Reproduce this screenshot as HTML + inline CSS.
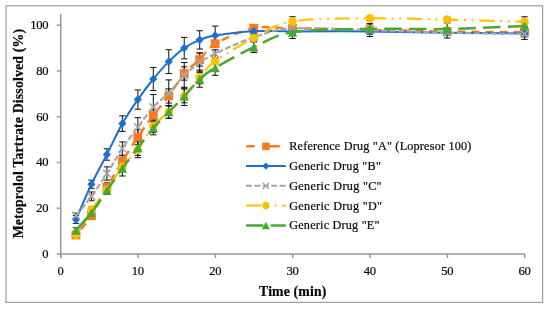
<!DOCTYPE html>
<html><head><meta charset="utf-8"><title>Dissolution profiles</title>
<style>
html,body{margin:0;padding:0;background:#fff;}
svg{display:block;}
text{font-family:"Liberation Serif",serif;fill:#0a0a0a;stroke:#0a0a0a;stroke-width:0.22px;}
.tk{font-size:12.6px;letter-spacing:-0.3px;}
.lg{font-size:12.2px;}
.ti{font-size:13.8px;font-weight:bold;}
</style></head><body>
<svg width="550" height="310" viewBox="0 0 550 310">
<rect x="0" y="0" width="550" height="310" fill="#fff"/>
<rect x="6" y="5.8" width="536.6" height="296.6" fill="#fff" stroke="#a0a0a0" stroke-width="1.25"/>
<path d="M60.75 14 V258.00" stroke="#989898" stroke-width="1.5" fill="none"/>
<path d="M56.75 254.00 H525.10" stroke="#989898" stroke-width="1.5" fill="none"/>
<path d="M56.75 208.24 H60.75" stroke="#989898" stroke-width="1.5" fill="none"/>
<path d="M56.75 162.48 H60.75" stroke="#989898" stroke-width="1.5" fill="none"/>
<path d="M56.75 116.72 H60.75" stroke="#989898" stroke-width="1.5" fill="none"/>
<path d="M56.75 70.96 H60.75" stroke="#989898" stroke-width="1.5" fill="none"/>
<path d="M56.75 25.20 H60.75" stroke="#989898" stroke-width="1.5" fill="none"/>
<path d="M60.75 254.00 V258.00" stroke="#989898" stroke-width="1.5" fill="none"/>
<path d="M138.08 254.00 V258.00" stroke="#989898" stroke-width="1.5" fill="none"/>
<path d="M215.42 254.00 V258.00" stroke="#989898" stroke-width="1.5" fill="none"/>
<path d="M292.75 254.00 V258.00" stroke="#989898" stroke-width="1.5" fill="none"/>
<path d="M370.08 254.00 V258.00" stroke="#989898" stroke-width="1.5" fill="none"/>
<path d="M447.42 254.00 V258.00" stroke="#989898" stroke-width="1.5" fill="none"/>
<path d="M524.75 254.00 V258.00" stroke="#989898" stroke-width="1.5" fill="none"/>
<text class="tk" x="48.2" y="257.80" text-anchor="end">0</text>
<text class="tk" x="48.2" y="212.04" text-anchor="end">20</text>
<text class="tk" x="48.2" y="166.28" text-anchor="end">40</text>
<text class="tk" x="48.2" y="120.52" text-anchor="end">60</text>
<text class="tk" x="48.2" y="74.76" text-anchor="end">80</text>
<text class="tk" x="48.2" y="29.00" text-anchor="end">100</text>
<text class="tk" x="60.50" y="275" text-anchor="middle">0</text>
<text class="tk" x="137.83" y="275" text-anchor="middle">10</text>
<text class="tk" x="215.17" y="275" text-anchor="middle">20</text>
<text class="tk" x="292.50" y="275" text-anchor="middle">30</text>
<text class="tk" x="369.83" y="275" text-anchor="middle">40</text>
<text class="tk" x="447.17" y="275" text-anchor="middle">50</text>
<text class="tk" x="524.50" y="275" text-anchor="middle">60</text>
<text class="ti" x="292.7" y="295.8" text-anchor="middle" textLength="67.3" lengthAdjust="spacing">Time (min)</text>
<text class="ti" transform="translate(22.7 133.6) rotate(-90)" text-anchor="middle" textLength="209.5" lengthAdjust="spacing">Metoprolol Tartrate Dissolved (%)</text>
<path d="M75.97 232.75 V237.33 M72.77 232.75 H79.17 M72.77 237.33 H79.17 M91.43 212.39 V219.25 M88.23 212.39 H94.63 M88.23 219.25 H94.63 M106.90 182.87 V192.02 M103.70 182.87 H110.10 M103.70 192.02 H110.10 M122.37 155.64 V167.08 M119.17 155.64 H125.57 M119.17 167.08 H125.57 M137.83 129.56 V144.66 M134.63 129.56 H141.03 M134.63 144.66 H141.03 M153.30 109.66 V121.10 M150.10 109.66 H156.50 M150.10 121.10 H156.50 M168.77 88.84 V103.02 M165.57 88.84 H171.97 M165.57 103.02 H171.97 M184.23 66.87 V80.14 M181.03 66.87 H187.43 M181.03 80.14 H187.43 M199.70 52.91 V66.18 M196.50 52.91 H202.90 M196.50 66.18 H202.90 M215.17 40.33 V47.19 M211.97 40.33 H218.37 M211.97 47.19 H218.37 M253.83 24.54 V31.86 M250.63 24.54 H257.03 M250.63 31.86 H257.03 M292.50 25.00 V31.86 M289.30 25.00 H295.70 M289.30 31.86 H295.70 M369.83 26.83 V32.78 M366.63 26.83 H373.03 M366.63 32.78 H373.03 M447.17 28.55 V34.50 M443.97 28.55 H450.37 M443.97 34.50 H450.37 M524.50 28.66 V35.52 M521.30 28.66 H527.70 M521.30 35.52 H527.70" stroke="#111" stroke-width="1" fill="none"/>
<path d="M75.97 215.59 V223.37 M72.77 215.59 H79.17 M72.77 223.37 H79.17 M91.43 180.13 V188.36 M88.23 180.13 H94.63 M88.23 188.36 H94.63 M106.90 148.78 V160.22 M103.70 148.78 H110.10 M103.70 160.22 H110.10 M122.37 115.83 V131.39 M119.17 115.83 H125.57 M119.17 131.39 H125.57 M137.83 89.98 V109.20 M134.63 89.98 H141.03 M134.63 109.20 H141.03 M153.30 67.56 V90.44 M150.10 67.56 H156.50 M150.10 90.44 H156.50 M168.77 49.71 V73.51 M165.57 49.71 H171.97 M165.57 73.51 H171.97 M184.23 37.36 V58.86 M181.03 37.36 H187.43 M181.03 58.86 H187.43 M199.70 30.72 V49.02 M196.50 30.72 H202.90 M196.50 49.02 H202.90 M215.17 26.14 V44.91 M211.97 26.14 H218.37 M211.97 44.91 H218.37 M253.83 28.89 V33.47 M250.63 28.89 H257.03 M250.63 33.47 H257.03 M292.50 29.12 V33.69 M289.30 29.12 H295.70 M289.30 33.69 H295.70 M369.83 29.12 V33.69 M366.63 29.12 H373.03 M366.63 33.69 H373.03 M447.17 30.49 V35.07 M443.97 30.49 H450.37 M443.97 35.07 H450.37 M524.50 30.03 V36.90 M521.30 30.03 H527.70 M521.30 36.90 H527.70" stroke="#111" stroke-width="1" fill="none"/>
<path d="M75.97 213.07 V218.11 M72.77 213.07 H79.17 M72.77 218.11 H79.17 M91.43 192.02 V200.72 M88.23 192.02 H94.63 M88.23 200.72 H94.63 M106.90 166.86 V180.13 M103.70 166.86 H110.10 M103.70 180.13 H110.10 M122.37 141.92 V155.19 M119.17 141.92 H125.57 M119.17 155.19 H125.57 M137.83 117.66 V136.43 M134.63 117.66 H141.03 M134.63 136.43 H141.03 M153.30 94.56 V119.72 M150.10 94.56 H156.50 M150.10 119.72 H156.50 M168.77 79.91 V106.00 M165.57 79.91 H171.97 M165.57 106.00 H171.97 M184.23 62.52 V88.15 M181.03 62.52 H187.43 M181.03 88.15 H187.43 M199.70 52.91 V72.59 M196.50 52.91 H202.90 M196.50 72.59 H202.90 M215.17 49.71 V57.49 M211.97 49.71 H218.37 M211.97 57.49 H218.37 M253.83 33.92 V40.79 M250.63 33.92 H257.03 M250.63 40.79 H257.03 M292.50 25.00 V31.86 M289.30 25.00 H295.70 M289.30 31.86 H295.70 M369.83 23.97 V36.55 M366.63 23.97 H373.03 M366.63 36.55 H373.03 M447.17 27.52 V38.04 M443.97 27.52 H450.37 M443.97 38.04 H450.37 M524.50 28.43 V39.41 M521.30 28.43 H527.70 M521.30 39.41 H527.70" stroke="#111" stroke-width="1" fill="none"/>
<path d="M75.97 232.29 V236.87 M72.77 232.29 H79.17 M72.77 236.87 H79.17 M91.43 206.90 V212.39 M88.23 206.90 H94.63 M88.23 212.39 H94.63 M106.90 186.30 V193.17 M103.70 186.30 H110.10 M103.70 193.17 H110.10 M122.37 162.28 V171.43 M119.17 162.28 H125.57 M119.17 171.43 H125.57 M137.83 141.69 V157.70 M134.63 141.69 H141.03 M134.63 157.70 H141.03 M153.30 119.49 V132.31 M150.10 119.49 H156.50 M150.10 132.31 H156.50 M168.77 105.54 V118.35 M165.57 105.54 H171.97 M165.57 118.35 H171.97 M184.23 89.06 V102.79 M181.03 89.06 H187.43 M181.03 102.79 H187.43 M199.70 70.07 V83.80 M196.50 70.07 H202.90 M196.50 83.80 H202.90 M215.17 58.86 V63.44 M211.97 58.86 H218.37 M211.97 63.44 H218.37 M253.83 34.61 V41.47 M250.63 34.61 H257.03 M250.63 41.47 H257.03 M292.50 16.76 V25.92 M289.30 16.76 H295.70 M289.30 25.92 H295.70 M369.83 16.08 V20.65 M366.63 16.08 H373.03 M366.63 20.65 H373.03 M447.17 17.34 V21.91 M443.97 17.34 H450.37 M443.97 21.91 H450.37 M524.50 16.76 V26.83 M521.30 16.76 H527.70 M521.30 26.83 H527.70" stroke="#111" stroke-width="1" fill="none"/>
<path d="M75.97 227.72 V233.21 M72.77 227.72 H79.17 M72.77 233.21 H79.17 M91.43 210.10 V215.59 M88.23 210.10 H94.63 M88.23 215.59 H94.63 M106.90 186.30 V194.54 M103.70 186.30 H110.10 M103.70 194.54 H110.10 M122.37 160.91 V176.01 M119.17 160.91 H125.57 M119.17 176.01 H125.57 M137.83 140.32 V155.42 M134.63 140.32 H141.03 M134.63 155.42 H141.03 M153.30 121.10 V134.82 M150.10 121.10 H156.50 M150.10 134.82 H156.50 M168.77 105.54 V118.35 M165.57 105.54 H171.97 M165.57 118.35 H171.97 M184.23 87.23 V105.54 M181.03 87.23 H187.43 M181.03 105.54 H187.43 M199.70 71.22 V87.23 M196.50 71.22 H202.90 M196.50 87.23 H202.90 M215.17 60.24 V75.34 M211.97 60.24 H218.37 M211.97 75.34 H218.37 M253.83 41.93 V52.46 M250.63 41.93 H257.03 M250.63 52.46 H257.03 M292.50 26.14 V38.50 M289.30 26.14 H295.70 M289.30 38.50 H295.70 M369.83 23.63 V34.15 M366.63 23.63 H373.03 M366.63 34.15 H373.03 M447.17 23.06 V34.95 M443.97 23.06 H450.37 M443.97 34.95 H450.37 M524.50 24.77 V27.06 M521.30 24.77 H527.70 M521.30 27.06 H527.70" stroke="#111" stroke-width="1" fill="none"/>
<path d="M75.97 235.04 C78.54 231.84 86.28 223.75 91.43 215.82 C96.59 207.89 101.74 196.52 106.90 187.45 C112.06 178.37 117.21 169.75 122.37 161.36 C127.52 152.98 132.68 144.78 137.83 137.11 C142.99 129.45 148.14 122.24 153.30 115.38 C158.46 108.51 163.61 102.91 168.77 95.93 C173.92 88.95 179.08 79.57 184.23 73.51 C189.39 67.44 194.54 64.51 199.70 59.55 C204.86 54.59 206.14 48.99 215.17 43.76 C224.19 38.54 240.94 30.76 253.83 28.20 C266.72 25.65 273.17 28.17 292.50 28.43 C311.83 28.70 344.06 29.29 369.83 29.80 C395.61 30.32 421.39 31.14 447.17 31.52 C472.94 31.90 511.61 32.00 524.50 32.09" fill="none" stroke="#F97A1F" stroke-width="2.40" stroke-dasharray="8 6" stroke-dashoffset="6.5"/>
<rect x="71.57" y="230.64" width="8.80" height="8.80" fill="#F97A1F"/>
<rect x="87.03" y="211.42" width="8.80" height="8.80" fill="#F97A1F"/>
<rect x="102.50" y="183.05" width="8.80" height="8.80" fill="#F97A1F"/>
<rect x="117.97" y="156.96" width="8.80" height="8.80" fill="#F97A1F"/>
<rect x="133.43" y="132.71" width="8.80" height="8.80" fill="#F97A1F"/>
<rect x="148.90" y="110.98" width="8.80" height="8.80" fill="#F97A1F"/>
<rect x="164.37" y="91.53" width="8.80" height="8.80" fill="#F97A1F"/>
<rect x="179.83" y="69.11" width="8.80" height="8.80" fill="#F97A1F"/>
<rect x="195.30" y="55.15" width="8.80" height="8.80" fill="#F97A1F"/>
<rect x="210.77" y="39.36" width="8.80" height="8.80" fill="#F97A1F"/>
<rect x="249.43" y="23.80" width="8.80" height="8.80" fill="#F97A1F"/>
<rect x="288.10" y="24.03" width="8.80" height="8.80" fill="#F97A1F"/>
<rect x="365.43" y="25.40" width="8.80" height="8.80" fill="#F97A1F"/>
<rect x="442.77" y="27.12" width="8.80" height="8.80" fill="#F97A1F"/>
<rect x="520.10" y="27.69" width="8.80" height="8.80" fill="#F97A1F"/>
<path d="M75.97 219.48 C78.54 213.61 86.28 195.07 91.43 184.24 C96.59 173.41 101.74 164.61 106.90 154.50 C112.06 144.40 117.21 132.76 122.37 123.61 C127.52 114.46 132.68 107.02 137.83 99.59 C142.99 92.15 148.14 85.33 153.30 79.00 C158.46 72.67 163.61 66.76 168.77 61.61 C173.92 56.46 179.08 51.73 184.23 48.11 C189.39 44.49 194.54 41.97 199.70 39.87 C204.86 37.77 206.14 36.97 215.17 35.52 C224.19 34.08 240.94 31.86 253.83 31.18 C266.72 30.49 273.17 31.37 292.50 31.41 C311.83 31.44 344.06 31.18 369.83 31.41 C395.61 31.64 421.39 32.44 447.17 32.78 C472.94 33.12 511.61 33.35 524.50 33.47" fill="none" stroke="#1C6ED2" stroke-width="2.00"/>
<path d="M75.97 215.18 L80.07 219.48 L75.97 223.78 L71.87 219.48Z" fill="#1C6ED2"/>
<path d="M91.43 179.94 L95.53 184.24 L91.43 188.54 L87.33 184.24Z" fill="#1C6ED2"/>
<path d="M106.90 150.20 L111.00 154.50 L106.90 158.80 L102.80 154.50Z" fill="#1C6ED2"/>
<path d="M122.37 119.31 L126.47 123.61 L122.37 127.91 L118.27 123.61Z" fill="#1C6ED2"/>
<path d="M137.83 95.29 L141.93 99.59 L137.83 103.89 L133.73 99.59Z" fill="#1C6ED2"/>
<path d="M153.30 74.70 L157.40 79.00 L153.30 83.30 L149.20 79.00Z" fill="#1C6ED2"/>
<path d="M168.77 57.31 L172.87 61.61 L168.77 65.91 L164.67 61.61Z" fill="#1C6ED2"/>
<path d="M184.23 43.81 L188.33 48.11 L184.23 52.41 L180.13 48.11Z" fill="#1C6ED2"/>
<path d="M199.70 35.57 L203.80 39.87 L199.70 44.17 L195.60 39.87Z" fill="#1C6ED2"/>
<path d="M215.17 31.22 L219.27 35.52 L215.17 39.82 L211.07 35.52Z" fill="#1C6ED2"/>
<path d="M253.83 26.88 L257.93 31.18 L253.83 35.48 L249.73 31.18Z" fill="#1C6ED2"/>
<path d="M292.50 27.11 L296.60 31.41 L292.50 35.71 L288.40 31.41Z" fill="#1C6ED2"/>
<path d="M369.83 27.11 L373.93 31.41 L369.83 35.71 L365.73 31.41Z" fill="#1C6ED2"/>
<path d="M447.17 28.48 L451.27 32.78 L447.17 37.08 L443.07 32.78Z" fill="#1C6ED2"/>
<path d="M524.50 29.17 L528.60 33.47 L524.50 37.77 L520.40 33.47Z" fill="#1C6ED2"/>
<path d="M75.97 215.59 C78.54 212.39 86.28 203.39 91.43 196.37 C96.59 189.35 101.74 181.46 106.90 173.49 C112.06 165.52 117.21 156.29 122.37 148.55 C127.52 140.81 132.68 133.95 137.83 127.04 C142.99 120.14 148.14 112.82 153.30 107.14 C158.46 101.46 163.61 98.25 168.77 92.95 C173.92 87.65 179.08 80.37 184.23 75.34 C189.39 70.30 194.54 66.37 199.70 62.75 C204.86 59.13 206.14 57.83 215.17 53.60 C224.19 49.37 240.94 41.55 253.83 37.36 C266.72 33.16 273.17 29.61 292.50 28.43 C311.83 27.25 344.06 29.54 369.83 30.26 C395.61 30.99 421.39 32.17 447.17 32.78 C472.94 33.39 511.61 33.73 524.50 33.92" fill="none" stroke="#A5A5A5" stroke-width="2.10" stroke-dasharray="6 2.4"/>
<path d="M72.27 211.89 L79.67 219.29 M72.27 219.29 L79.67 211.89" stroke="#A5A5A5" stroke-width="1.60" fill="none"/>
<path d="M87.73 192.67 L95.13 200.07 M87.73 200.07 L95.13 192.67" stroke="#A5A5A5" stroke-width="1.60" fill="none"/>
<path d="M103.20 169.79 L110.60 177.19 M103.20 177.19 L110.60 169.79" stroke="#A5A5A5" stroke-width="1.60" fill="none"/>
<path d="M118.67 144.85 L126.07 152.25 M118.67 152.25 L126.07 144.85" stroke="#A5A5A5" stroke-width="1.60" fill="none"/>
<path d="M134.13 123.34 L141.53 130.74 M134.13 130.74 L141.53 123.34" stroke="#A5A5A5" stroke-width="1.60" fill="none"/>
<path d="M149.60 103.44 L157.00 110.84 M149.60 110.84 L157.00 103.44" stroke="#A5A5A5" stroke-width="1.60" fill="none"/>
<path d="M165.07 89.25 L172.47 96.65 M165.07 96.65 L172.47 89.25" stroke="#A5A5A5" stroke-width="1.60" fill="none"/>
<path d="M180.53 71.64 L187.93 79.04 M180.53 79.04 L187.93 71.64" stroke="#A5A5A5" stroke-width="1.60" fill="none"/>
<path d="M196.00 59.05 L203.40 66.45 M196.00 66.45 L203.40 59.05" stroke="#A5A5A5" stroke-width="1.60" fill="none"/>
<path d="M211.47 49.90 L218.87 57.30 M211.47 57.30 L218.87 49.90" stroke="#A5A5A5" stroke-width="1.60" fill="none"/>
<path d="M250.13 33.66 L257.53 41.06 M250.13 41.06 L257.53 33.66" stroke="#A5A5A5" stroke-width="1.60" fill="none"/>
<path d="M288.80 24.73 L296.20 32.13 M288.80 32.13 L296.20 24.73" stroke="#A5A5A5" stroke-width="1.60" fill="none"/>
<path d="M366.13 26.56 L373.53 33.96 M366.13 33.96 L373.53 26.56" stroke="#A5A5A5" stroke-width="1.60" fill="none"/>
<path d="M443.47 29.08 L450.87 36.48 M443.47 36.48 L450.87 29.08" stroke="#A5A5A5" stroke-width="1.60" fill="none"/>
<path d="M520.80 30.22 L528.20 37.62 M520.80 37.62 L528.20 30.22" stroke="#A5A5A5" stroke-width="1.60" fill="none"/>
<path d="M75.97 234.58 C78.54 230.42 86.28 217.12 91.43 209.64 C96.59 202.17 101.74 196.87 106.90 189.74 C112.06 182.61 117.21 173.53 122.37 166.86 C127.52 160.18 132.68 156.52 137.83 149.70 C142.99 142.87 148.14 132.19 153.30 125.90 C158.46 119.61 163.61 116.94 168.77 111.94 C173.92 106.95 179.08 101.76 184.23 95.93 C189.39 90.09 194.54 82.73 199.70 76.94 C204.86 71.14 206.14 67.63 215.17 61.15 C224.19 54.67 240.94 44.68 253.83 38.04 C266.72 31.41 273.17 24.62 292.50 21.34 C311.83 18.06 344.06 18.65 369.83 18.36 C395.61 18.08 421.39 19.05 447.17 19.62 C472.94 20.20 511.61 21.43 524.50 21.80" fill="none" stroke="#FFC000" stroke-width="2.10" stroke-dasharray="15.2 5.7 1.9 5.7 1.9 5.7" stroke-dashoffset="7.6"/>
<circle cx="75.97" cy="234.58" r="4.30" fill="#FFC000"/>
<circle cx="91.43" cy="209.64" r="4.30" fill="#FFC000"/>
<circle cx="106.90" cy="189.74" r="4.30" fill="#FFC000"/>
<circle cx="122.37" cy="166.86" r="4.30" fill="#FFC000"/>
<circle cx="137.83" cy="149.70" r="4.30" fill="#FFC000"/>
<circle cx="153.30" cy="125.90" r="4.30" fill="#FFC000"/>
<circle cx="168.77" cy="111.94" r="4.30" fill="#FFC000"/>
<circle cx="184.23" cy="95.93" r="4.30" fill="#FFC000"/>
<circle cx="199.70" cy="76.94" r="4.30" fill="#FFC000"/>
<circle cx="215.17" cy="61.15" r="4.30" fill="#FFC000"/>
<circle cx="253.83" cy="38.04" r="4.30" fill="#FFC000"/>
<circle cx="292.50" cy="21.34" r="4.30" fill="#FFC000"/>
<circle cx="369.83" cy="18.36" r="4.30" fill="#FFC000"/>
<circle cx="447.17" cy="19.62" r="4.30" fill="#FFC000"/>
<circle cx="524.50" cy="21.80" r="4.30" fill="#FFC000"/>
<path d="M75.97 230.46 C78.54 227.53 86.28 219.52 91.43 212.84 C96.59 206.17 101.74 197.82 106.90 190.42 C112.06 183.02 117.21 175.55 122.37 168.46 C127.52 161.36 132.68 154.62 137.83 147.87 C142.99 141.12 148.14 133.95 153.30 127.96 C158.46 121.97 163.61 117.21 168.77 111.94 C173.92 106.68 179.08 101.84 184.23 96.39 C189.39 90.93 194.54 83.99 199.70 79.23 C204.86 74.46 206.14 73.12 215.17 67.79 C224.19 62.45 240.94 53.10 253.83 47.19 C266.72 41.28 273.17 35.37 292.50 32.32 C311.83 29.27 344.06 29.44 369.83 28.89 C395.61 28.34 421.39 29.50 447.17 29.00 C472.94 28.51 511.61 26.43 524.50 25.92" fill="none" stroke="#46A932" stroke-width="2.50" stroke-dasharray="17.5 7.2" stroke-dashoffset="2.74"/>
<path d="M75.97 230.46 L91.43 212.84" fill="none" stroke="#46A932" stroke-width="2.50"/>
<path d="M75.97 226.06 L80.67 234.86 L71.27 234.86Z" fill="#46A932"/>
<path d="M91.43 208.44 L96.13 217.24 L86.73 217.24Z" fill="#46A932"/>
<path d="M106.90 186.02 L111.60 194.82 L102.20 194.82Z" fill="#46A932"/>
<path d="M122.37 164.06 L127.07 172.86 L117.67 172.86Z" fill="#46A932"/>
<path d="M137.83 143.47 L142.53 152.27 L133.13 152.27Z" fill="#46A932"/>
<path d="M153.30 123.56 L158.00 132.36 L148.60 132.36Z" fill="#46A932"/>
<path d="M168.77 107.54 L173.47 116.34 L164.07 116.34Z" fill="#46A932"/>
<path d="M184.23 91.99 L188.93 100.79 L179.53 100.79Z" fill="#46A932"/>
<path d="M199.70 74.83 L204.40 83.63 L195.00 83.63Z" fill="#46A932"/>
<path d="M215.17 63.39 L219.87 72.19 L210.47 72.19Z" fill="#46A932"/>
<path d="M253.83 42.79 L258.53 51.59 L249.13 51.59Z" fill="#46A932"/>
<path d="M292.50 27.92 L297.20 36.72 L287.80 36.72Z" fill="#46A932"/>
<path d="M369.83 24.49 L374.53 33.29 L365.13 33.29Z" fill="#46A932"/>
<path d="M447.17 24.60 L451.87 33.40 L442.47 33.40Z" fill="#46A932"/>
<path d="M524.50 21.52 L529.20 30.32 L519.80 30.32Z" fill="#46A932"/>
<path d="M246.4 146.30 H254.7 M264 146.30 H279.8" fill="none" stroke="#F97A1F" stroke-width="2.40"/>
<rect x="262.16" y="142.56" width="7.48" height="7.48" fill="#F97A1F"/>
<text class="lg" x="289.2" y="150.30" textLength="182.2" lengthAdjust="spacing">Reference Drug &quot;A&quot; (Lopresor 100)</text>
<path d="M246 166.10 H285.8" fill="none" stroke="#1C6ED2" stroke-width="2.00"/>
<path d="M265.90 162.44 L269.38 166.10 L265.90 169.75 L262.41 166.10Z" fill="#1C6ED2"/>
<text class="lg" x="289.2" y="170.10" textLength="91.8" lengthAdjust="spacing">Generic Drug &quot;B&quot;</text>
<path d="M246 185.80 H285.8" fill="none" stroke="#A5A5A5" stroke-width="2.10" stroke-dasharray="6 2.4"/>
<path d="M262.75 182.66 L269.04 188.95 M262.75 188.95 L269.04 182.66" stroke="#A5A5A5" stroke-width="1.36" fill="none"/>
<text class="lg" x="289.2" y="189.80" textLength="92.4" lengthAdjust="spacing">Generic Drug &quot;C&quot;</text>
<path d="M246 205.50 H285.8" fill="none" stroke="#FFC000" stroke-width="2.10" stroke-dasharray="15.2 5.7 1.9 5.7 1.9 5.7"/>
<circle cx="265.90" cy="205.50" r="3.65" fill="#FFC000"/>
<text class="lg" x="289.2" y="209.50" textLength="92.8" lengthAdjust="spacing">Generic Drug &quot;D&quot;</text>
<path d="M246 225.40 H285.8" fill="none" stroke="#46A932" stroke-width="2.50" stroke-dasharray="17.5 7.2"/>
<path d="M265.90 221.66 L269.89 229.14 L261.90 229.14Z" fill="#46A932"/>
<text class="lg" x="289.2" y="229.40" textLength="90.3" lengthAdjust="spacing">Generic Drug &quot;E&quot;</text>
</svg>
</body></html>
